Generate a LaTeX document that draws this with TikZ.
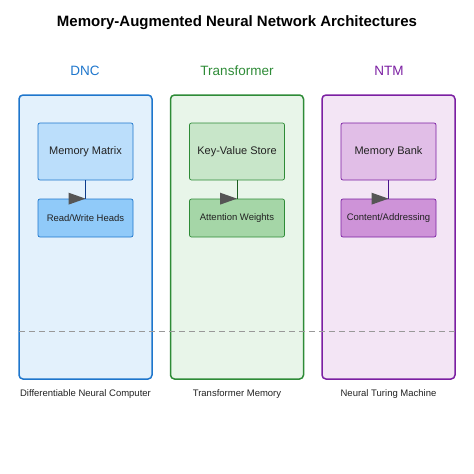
\documentclass[tikz,border=0pt]{standalone}
\usepackage{fontspec}
\setmainfont{Liberation Sans}
\definecolor{dncline}{HTML}{1E76CC}
\definecolor{dncfill}{HTML}{E3F1FC}
\definecolor{dnctop}{HTML}{BBDEFB}
\definecolor{dncbot}{HTML}{90CAF9}
\definecolor{dncdark}{HTML}{0D3C8C}
\definecolor{trfline}{HTML}{2E8B37}
\definecolor{trffill}{HTML}{E8F5E9}
\definecolor{trftop}{HTML}{C8E6C9}
\definecolor{trfbot}{HTML}{A5D6A7}
\definecolor{trfdark}{HTML}{1B5E20}
\definecolor{ntmline}{HTML}{7B1FA2}
\definecolor{ntmfill}{HTML}{F3E5F5}
\definecolor{ntmtop}{HTML}{E1BEE7}
\definecolor{ntmbot}{HTML}{CE93D8}
\definecolor{ntmdark}{HTML}{4A148C}
\definecolor{tipgray}{HTML}{555555}
\definecolor{textdark}{HTML}{222222}

\begin{document}
\begin{tikzpicture}[x=1pt,y=-1pt,
    outer/.style={draw, rounded corners=4pt, line width=1.5pt, minimum width=133pt, minimum height=284pt},
    inner/.style={draw, rounded corners=2pt, line width=0.7pt, minimum width=95pt, minimum height=57pt, text=textdark, font=\fontsize{11}{13}\selectfont},
    lower/.style={draw, rounded corners=2pt, line width=0.7pt, minimum width=95pt, minimum height=38pt, text=textdark, font=\fontsize{9.5}{11}\selectfont},
    head/.style={font=\fontsize{13.5}{16}\selectfont},
    caption/.style={text=textdark, font=\fontsize{9.5}{11}\selectfont}]
        \useasboundingbox (0,0) rectangle (474,474);

        \node at (237, 23)   (title) {\fontsize{15}{18}\selectfont\bfseries Memory-Augmented Neural Network Architectures};

        \node[head, text=dncline] at (85, 71)   (dnchead) {DNC};
        \node[head, text=trfline] at (237, 71)  (trfhead) {Transformer};
        \node[head, text=ntmline] at (389, 71)  (ntmhead) {NTM};

        \node[outer, draw=dncline, fill=dncfill] at (85.5, 237)  (dnc) {};
        \node[outer, draw=trfline, fill=trffill] at (237, 237)   (trf) {};
        \node[outer, draw=ntmline, fill=ntmfill] at (388.5, 237) (ntm) {};

        \node[inner, draw=dncline, fill=dnctop] at (85.5, 151.5)  (matrix) {Memory Matrix};
        \node[inner, draw=trfline, fill=trftop] at (237, 151.5)   (kvstore) {Key-Value Store};
        \node[inner, draw=ntmline, fill=ntmtop] at (388.5, 151.5) (bank) {Memory Bank};

        \node[lower, draw=dncline, fill=dncbot] at (85.5, 218)  (heads) {Read/Write Heads};
        \node[lower, draw=trfline, fill=trfbot] at (237, 218)   (attn) {Attention Weights};
        \node[lower, draw=ntmline, fill=ntmbot] at (388.5, 218) (addr) {Content/Addressing};

        \draw[dncdark, line width=1pt] (matrix) -- (heads);
        \draw[trfdark, line width=1pt] (kvstore) -- (attn);
        \draw[ntmdark, line width=1pt] (bank) -- (addr);
        \fill[tipgray] (heads.north) -- ++(-17,-6) -- ++(0,12) -- cycle;
        \fill[tipgray] (attn.north) -- ++(-17,-6) -- ++(0,12) -- cycle;
        \fill[tipgray] (addr.north) -- ++(-17,-6) -- ++(0,12) -- cycle;

        \coordinate (cutl) at (19, 331);
        \coordinate (cutr) at (455, 331);
        \draw[gray!80, line width=1pt, dash pattern=on 6pt off 4pt] (cutl) -- (cutr);

        \node[caption] at (85.5, 394)  (dnccap) {Differentiable Neural Computer};
        \node[caption] at (237, 394)   (trfcap) {Transformer Memory};
        \node[caption] at (388.5, 394) (ntmcap) {Neural Turing Machine};
    \end{tikzpicture}
\end{document}
